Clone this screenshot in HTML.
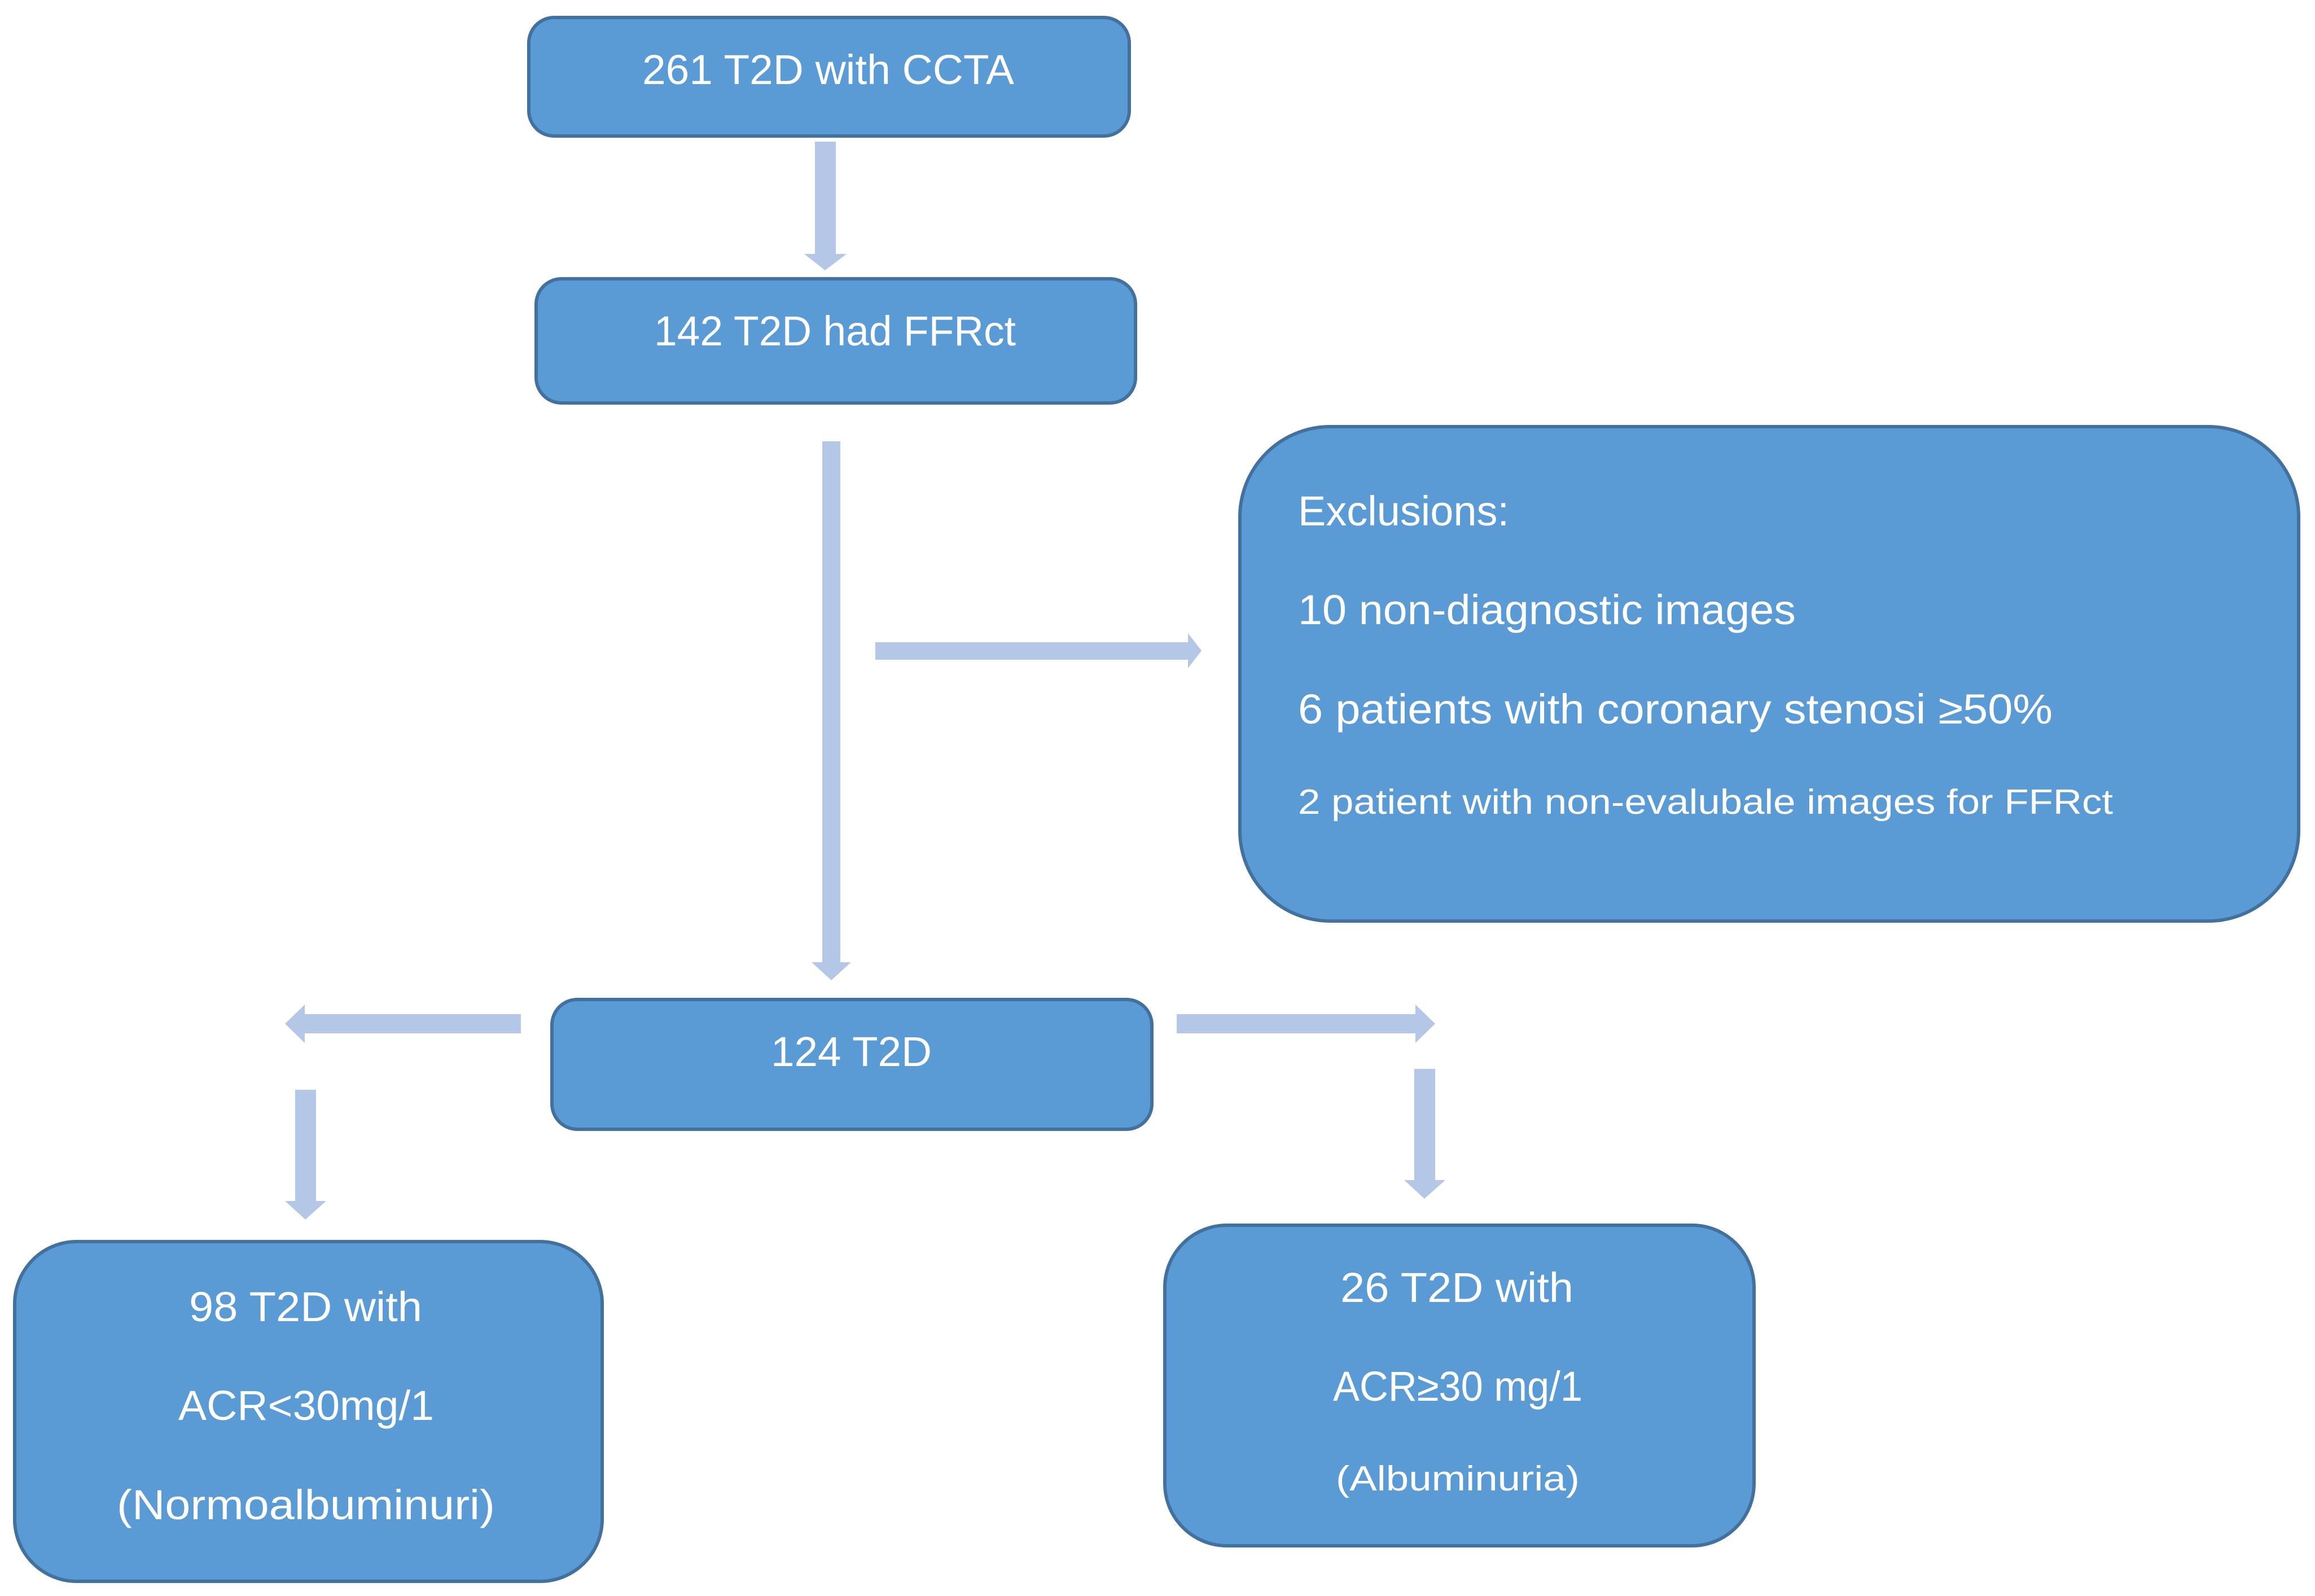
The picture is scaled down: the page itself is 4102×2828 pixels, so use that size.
<!DOCTYPE html>
<html><head><meta charset="utf-8"><style>
html,body{margin:0;padding:0;background:#fff;}
svg{display:block;}
text{font-family:"Liberation Sans",sans-serif;fill:#fff;}
</style></head><body>
<svg width="4102" height="2828" viewBox="0 0 4102 2828" xmlns="http://www.w3.org/2000/svg">
<g fill="#5b9bd5" stroke="#41719c" stroke-width="6">
<rect x="937" y="31" width="1064" height="210" rx="45"/>
<rect x="950" y="494" width="1062" height="220" rx="45"/>
<rect x="2197" y="756" width="1876" height="876" rx="160"/>
<rect x="978" y="1771" width="1063" height="230" rx="45"/>
<rect x="26" y="2200" width="1041" height="602" rx="110"/>
<rect x="2064" y="2171" width="1044" height="568" rx="110"/>
</g>
<g fill="#b4c7e7">
<!-- arrow 1 down -->
<polygon points="1444,251 1481,251 1481,450 1500,450 1462,479 1425,450 1444,450"/>
<!-- long down -->
<polygon points="1457,782 1489,782 1489,1705 1508,1705 1473,1737 1438,1705 1457,1705"/>
<!-- right to exclusions -->
<polygon points="1551,1138 2105,1138 2105,1122 2129,1153 2105,1184 2105,1169 1551,1169"/>
<!-- left arrow -->
<polygon points="923,1797 923,1831 540,1831 540,1848 505,1814 540,1780 540,1797"/>
<!-- right arrow -->
<polygon points="2085,1797 2085,1831 2508,1831 2508,1848 2543,1814 2508,1780 2508,1797"/>
<!-- left down -->
<polygon points="523,1931 560,1931 560,2128 578,2128 541,2161 505,2128 523,2128"/>
<!-- right down -->
<polygon points="2506,1894 2543,1894 2543,2091 2561,2091 2524,2124 2488,2091 2506,2091"/>
</g>
<g font-size="74">
<text x="1138" y="149" textLength="659" lengthAdjust="spacingAndGlyphs">261 T2D with CCTA</text>
<text x="1159" y="612" textLength="641" lengthAdjust="spacingAndGlyphs">142 T2D had FFRct</text>
<text x="1366" y="1889" textLength="285" lengthAdjust="spacingAndGlyphs">124 T2D</text>
<text x="2300" y="931" textLength="374" lengthAdjust="spacingAndGlyphs">Exclusions:</text>
<text x="2300" y="1106" textLength="882" lengthAdjust="spacingAndGlyphs">10 non-diagnostic images</text>
<text x="2300" y="1282" textLength="1337" lengthAdjust="spacingAndGlyphs">6 patients with coronary stenosi ≥50%</text>
<text x="335" y="2341" textLength="413" lengthAdjust="spacingAndGlyphs">98 T2D with</text>
<text x="316" y="2516" textLength="453" lengthAdjust="spacingAndGlyphs">ACR&lt;30mg/1</text>
<text x="207" y="2692" textLength="670" lengthAdjust="spacingAndGlyphs">(Normoalbuminuri)</text>
<text x="2375" y="2307" textLength="413" lengthAdjust="spacingAndGlyphs">26 T2D with</text>
<text x="2362" y="2482" textLength="442" lengthAdjust="spacingAndGlyphs">ACR≥30 mg/1</text>
</g>
<g font-size="62">
<text x="2300" y="1442" textLength="1444" lengthAdjust="spacingAndGlyphs">2 patient with non-evalubale images for FFRct</text>
<text x="2367" y="2641" textLength="432" lengthAdjust="spacingAndGlyphs">(Albuminuria)</text>
</g>
</svg>
</body></html>
